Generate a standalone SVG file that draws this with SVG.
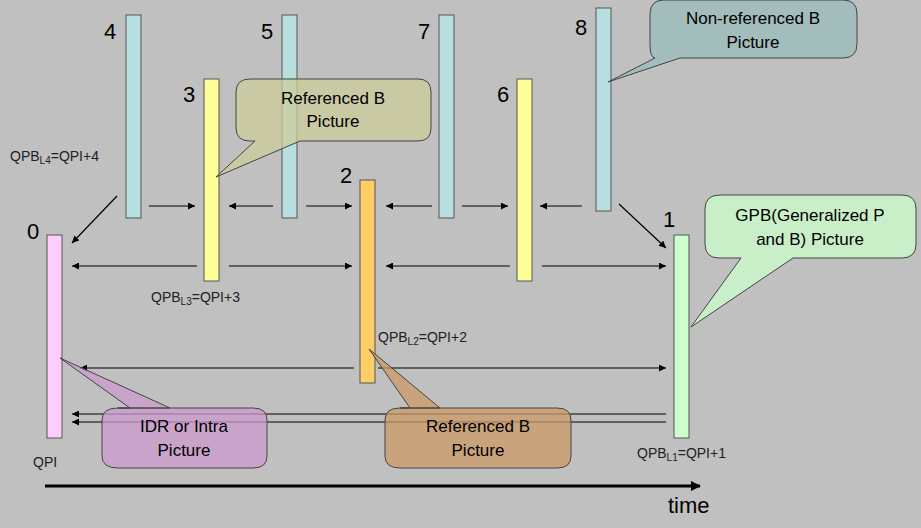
<svg xmlns="http://www.w3.org/2000/svg" width="921" height="528" viewBox="0 0 921 528">
<defs><marker id="a" viewBox="0 0 10 10" refX="10" refY="5" markerWidth="8" markerHeight="7" markerUnits="userSpaceOnUse" orient="auto"><path d="M0,0L10,5L0,10z" fill="#000"/></marker>
<marker id="b" viewBox="0 0 10 10" refX="9" refY="5" markerWidth="14" markerHeight="10" markerUnits="userSpaceOnUse" orient="auto"><path d="M0,0L10,5L0,10z" fill="#000"/></marker></defs>
<style>
text{font-family:"Liberation Sans",Arial,sans-serif;fill:#000}
.bar{stroke:#555;stroke-width:1}
.n{font-size:22px}
.q{font-size:14px;fill:#222}
.c{font-size:17px;text-anchor:middle}
.l{stroke:#000;stroke-width:1.2;fill:none;marker-end:url(#a)}
.co{stroke:#444;stroke-width:1;fill-opacity:0.75}
</style>
<rect width="921" height="528" fill="#c0c0c0"/>
<g id="connectors">
<path class="l" d="M149,206H195"/><path class="l" d="M273,206H229"/><path class="l" d="M306,206H352"/>
<path class="l" d="M432,206H386"/><path class="l" d="M462,206H508"/><path class="l" d="M582,206H540"/>
<path class="l" d="M197,266H72"/><path class="l" d="M229,266H352"/><path class="l" d="M510,266H386"/><path class="l" d="M542,266H666"/>
<path class="l" d="M354,368H80"/><path class="l" d="M378,368H666"/>
<path class="l" d="M666,414H72"/><path class="l" d="M666,422H72"/>
<path class="l" d="M117,196L72,243"/><path class="l" d="M619,204L666,248"/>
<path stroke="#000" stroke-width="3" marker-end="url(#b)" d="M45,486H700"/>
</g>
<g id="n0"><rect class="bar" x="47" y="235" width="15" height="203" fill="#fcf"/><text class="n" x="27" y="239">0</text><text class="q" x="33" y="467">QPI</text></g>
<g id="n4"><rect class="bar" x="126" y="15" width="15" height="203" fill="#b7dfe0"/><text class="n" x="104" y="39">4</text><text class="q" x="10" y="161">QPB<tspan font-size="10" dy="3">L4</tspan><tspan dy="-3">=QPI+4</tspan></text></g>
<g id="n3"><rect class="bar" x="204" y="79" width="15" height="202" fill="#ff9"/><text class="n" x="183" y="102">3</text><text class="q" x="151" y="302">QPB<tspan font-size="10" dy="3">L3</tspan><tspan dy="-3">=QPI+3</tspan></text></g>
<g id="n5"><rect class="bar" x="282" y="15" width="15" height="203" fill="#b7dfe0"/><text class="n" x="261" y="39">5</text></g>
<g id="n2"><rect class="bar" x="360" y="180" width="15" height="203" fill="#fc6"/><text class="n" x="340" y="183">2</text><text class="q" x="378" y="342">QPB<tspan font-size="10" dy="3">L2</tspan><tspan dy="-3">=QPI+2</tspan></text></g>
<g id="n7"><rect class="bar" x="439" y="15" width="15" height="203" fill="#b7dfe0"/><text class="n" x="418" y="39">7</text></g>
<g id="n6"><rect class="bar" x="517" y="79" width="15" height="202" fill="#ff9"/><text class="n" x="497" y="102">6</text></g>
<g id="n8"><rect class="bar" x="596" y="8" width="15" height="203" fill="#b7dfe0"/><text class="n" x="575" y="35">8</text></g>
<g id="n1"><rect class="bar" x="674" y="235" width="15" height="203" fill="#cfc"/><text class="n" x="663" y="227">1</text><text class="q" x="637" y="458">QPB<tspan font-size="10" dy="3">L1</tspan><tspan dy="-3">=QPI+1</tspan></text></g>
<g id="callout-refB-top"><path class="co" fill="#cc9" d="M250,79H418Q431,79 431,92V128Q431,141 418,141H300L216,177L255,141H250Q236,141 236,128V92Q236,79 250,79z"/><text class="c" x="333" y="104">Referenced B</text><text class="c" x="333" y="127">Picture</text></g>
<g id="callout-nonref"><path class="co" fill="#9bb" d="M664,0H843Q857,0 857,14V44Q857,58 843,58H680L608,82L655,58Q650,58 650,44V14Q650,0 664,0z"/><text class="c" x="753" y="24">Non-referenced B</text><text class="c" x="753" y="48">Picture</text></g>
<g id="callout-gpb"><path class="co" fill="#cfc" d="M720,195H902Q916,195 916,209V244Q916,258 902,258H793L691,327L741,258H719Q705,258 705,244V209Q705,195 720,195z"/><text class="c" x="810" y="221">GPB(Generalized P</text><text class="c" x="810" y="245">and B) Picture</text></g>
<g id="callout-idr"><path class="co" fill="#c9c" d="M118,408H253Q267,408 267,420V456Q267,468 253,468H118Q102,468 102,456V420Q102,408 118,408H130L60,358L170,408z"/><text class="c" x="184" y="432">IDR or Intra</text><text class="c" x="184" y="456">Picture</text></g>
<g id="callout-refB-bottom"><path class="co" fill="#c96" fill-opacity="0.7" d="M400,408H557Q571,408 571,420V456Q571,468 557,468H400Q385,468 385,456V420Q385,408 400,408H410L369,349L440,408z"/><text class="c" x="478" y="432">Referenced B</text><text class="c" x="478" y="456">Picture</text></g>
<text x="668" y="513" font-size="22">time</text>
</svg>
